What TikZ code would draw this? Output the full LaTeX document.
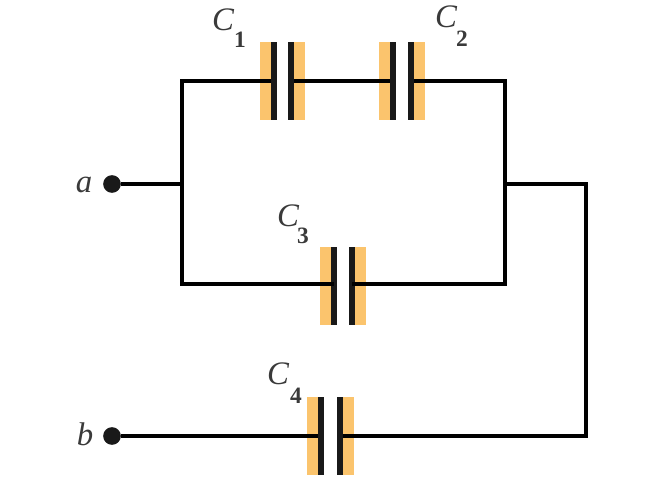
\documentclass[tikz,border=0pt]{standalone}
\usepackage{fontspec}
\setmainfont{Liberation Serif}
\usepackage{tikz}
\usetikzlibrary{positioning}
\definecolor{padorange}{HTML}{FBC46D}
\definecolor{labelgray}{HTML}{3A3A3A}
\tikzset{
  wire/.style={line width=4pt},
  cappad/.style={rectangle,fill=padorange,minimum width=0.31cm,minimum height=2.34cm,inner sep=0pt},
  capplate/.style={rectangle,fill=black!90,minimum width=0.18cm,minimum height=2.34cm,inner sep=0pt},
  terminal/.style={circle,fill=black!90,minimum size=0.53cm,inner sep=0pt},
  biglabel/.style={text=labelgray,inner sep=0pt,font=\fontsize{28}{30}\selectfont\itshape},
  sublabel/.style={text=labelgray,inner sep=0pt,font=\fontsize{20}{22}\selectfont\bfseries}
}
\begin{document}
\begin{tikzpicture}[x=0.03cm,y=-0.03cm]
        \useasboundingbox (0,0) rectangle (670,482);

        % capacitors
        \node[capplate] (c1_l) at (274,81) {};
        \node[capplate] (c1_r) at (291,81) {};
        \node[capplate] (c2_l) at (393,81) {};
        \node[capplate] (c2_r) at (411,81) {};
        \node[capplate] (c3_l) at (334,286) {};
        \node[capplate] (c3_r) at (352,286) {};
        \node[capplate] (c4_l) at (321,436) {};
        \node[capplate] (c4_r) at (340,436) {};

        \node[cappad,left=0pt of c1_l] (pad_1l) {};
        \node[cappad,right=0pt of c1_r] (pad_1r) {};
        \node[cappad,left=0pt of c2_l] (pad_2l) {};
        \node[cappad,right=0pt of c2_r] (pad_2r) {};
        \node[cappad,left=0pt of c3_l] (pad_3l) {};
        \node[cappad,right=0pt of c3_r] (pad_3r) {};
        \node[cappad,left=0pt of c4_l] (pad_4l) {};
        \node[cappad,right=0pt of c4_r] (pad_4r) {};

        % terminals and corners
        \node[terminal] (a) at (112,184) {};
        \node[terminal] (b) at (112,436) {};
        \coordinate (n_l) at (182,184);
        \coordinate (n_r) at (505,184);
        \coordinate (tl) at (182,81);
        \coordinate (tr) at (505,81);
        \coordinate (bl) at (182,284);
        \coordinate (br) at (505,284);
        \coordinate (out) at (586,184);
        \coordinate (end) at (586,436);

        \draw[wire] (c1_r) -- (c2_l);
        \draw[wire] (c1_l) -- (tl) -- (bl) -- (bl -| c3_l);
        \draw[wire] (c2_r) -- (tr) -- (br) -- (br -| c3_r);
        \draw[wire] (a) -- (n_l);
        \draw[wire] (n_r) -- (out) -- (end) -- (c4_r);
        \draw[wire] (b) -- (c4_l);

        % labels
        \node[biglabel] (l_a) at (84,185) {a};
        \node[biglabel] (l_b) at (85,434) {b};
        \node[biglabel] (l_1) at (223,20) {C};
        \node[sublabel] (s_1) at (240,40) {1};
        \node[biglabel] (l_2) at (446,17) {C};
        \node[sublabel] (s_2) at (462,39) {2};
        \node[biglabel] (l_3) at (288,216) {C};
        \node[sublabel] (s_3) at (303,236) {3};
        \node[biglabel] (l_4) at (278,374) {C};
        \node[sublabel] (s_4) at (296,396) {4};

\end{tikzpicture}
\end{document}
